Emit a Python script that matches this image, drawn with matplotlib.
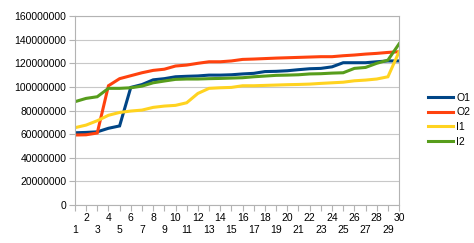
import matplotlib.pyplot as plt
import numpy as np

plt.rcParams['font.family'] = ['Liberation Sans', 'DejaVu Sans']

# Dados
periodos = list(range(1, 31))
o1 = [61.2, 61.5, 62.0, 65.0, 67.0, 99.6, 102.0, 106.0, 107.0, 108.6, 109.0, 109.3,
      110.0, 110.0, 110.3, 111.0, 111.5, 113.0, 113.2, 113.7, 114.6, 115.4, 115.7, 117.0,
      120.5, 120.5, 120.5, 121.3, 122.0, 122.0]
o2 = [59.3, 59.5, 61.0, 101.0, 107.0, 109.5, 112.0, 114.0, 115.0, 117.7, 118.5, 120.0,
      121.3, 121.3, 122.0, 123.3, 123.6, 124.0, 124.4, 124.7, 125.0, 125.3, 125.6, 125.6,
      126.4, 127.0, 127.8, 128.4, 129.2, 129.8]
i1 = [65.5, 67.7, 71.4, 76.0, 78.4, 79.6, 80.4, 82.7, 83.8, 84.4, 86.6, 94.5,
      98.8, 99.3, 99.6, 101.0, 101.0, 101.3, 101.6, 101.9, 102.1, 102.4, 103.0, 103.5,
      104.0, 105.2, 105.8, 106.7, 108.6, 129.8]
i2 = [87.5, 90.3, 91.7, 98.8, 98.8, 99.3, 100.7, 103.5, 105.0, 106.4, 106.7, 106.7,
      107.0, 107.2, 107.5, 107.8, 108.6, 109.2, 109.8, 110.0, 110.3, 111.0, 111.2, 111.7,
      112.0, 115.7, 116.5, 120.0, 122.7, 136.5]

series = {'O1': o1, 'O2': o2, 'I1': i1, 'I2': i2}
cores = {'O1': '#004586', 'O2': '#ff420e', 'I1': '#ffd320', 'I2': '#579d1c'}

fig = plt.figure(figsize=(4.74, 2.43), dpi=100)
ax = fig.add_axes([0.158, 0.156, 0.684, 0.778])

for nome, valores in series.items():
    ax.plot(periodos, np.array(valores) * 1e6, color=cores[nome], linewidth=2.2,
            label=nome, solid_joinstyle='miter')

ax.set_xlim(1, 30)
ax.set_ylim(0, 160000000)
ax.set_yticks(np.arange(0, 160000001, 20000000))
ax.set_yticklabels([str(v) for v in range(0, 160000001, 20000000)], fontsize=7.5)

ax.set_xticks(periodos)
ax.set_xticklabels([str(p) if p % 2 == 0 else '\n' + str(p) for p in periodos],
                   fontsize=7.5, linespacing=1.2)

ax.grid(axis='y', color='#c8c8c8', linewidth=0.8)
ax.set_axisbelow(True)
for lado in ['left', 'bottom', 'right', 'top']:
    ax.spines[lado].set_color('#b3b3b3')
    ax.spines[lado].set_linewidth(0.8)
ax.tick_params(axis='both', colors='#b3b3b3', labelcolor='black', length=4, width=0.8, pad=2)

fig.legend(loc='center left', bbox_to_anchor=(0.903, 0.508), frameon=False, fontsize=7.5,
           handlelength=2.4, labelspacing=0.45, handletextpad=0.3,
           borderaxespad=0, borderpad=0)

fig.savefig('out.png', dpi=100)
